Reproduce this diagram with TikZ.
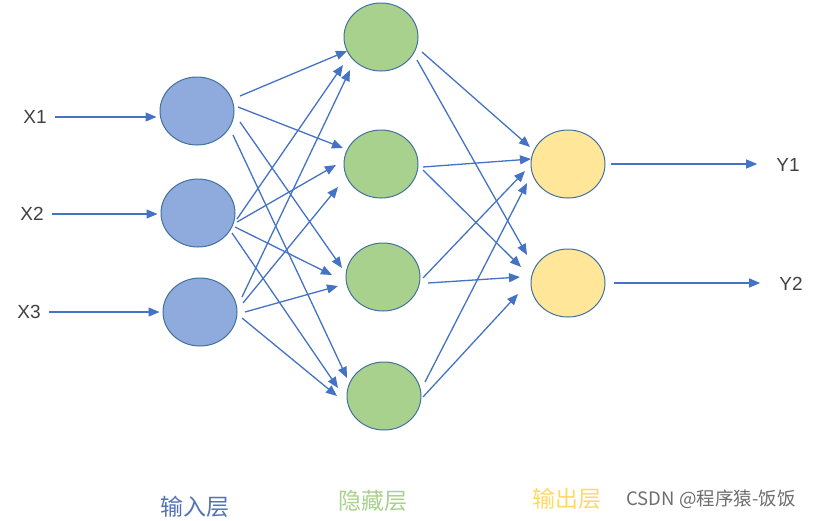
\documentclass[tikz,border=0pt]{standalone}
\usepackage{fontspec}
\setmainfont{Liberation Sans}
\newfontfamily\cjk{Noto Sans CJK SC}
\usetikzlibrary{arrows.meta,shapes.geometric,calc}
\definecolor{inblue}{HTML}{8FAADC}
\definecolor{hidgreen}{HTML}{A9D18E}
\definecolor{outyel}{HTML}{FFE699}
\definecolor{rim}{HTML}{41719C}
\definecolor{arr}{HTML}{4472C4}
\definecolor{txt}{HTML}{404040}
\definecolor{inlab}{HTML}{5473B4}
\definecolor{outlab}{HTML}{FFD966}
\definecolor{wm}{HTML}{6E6E6E}
\newcommand\cn[4]{\draw[conn] ($(#1)+(#2)$) -- ($(#3)+(#4)$);}
\begin{document}
\begin{tikzpicture}[x=1pt,y=-1pt,
  neuron/.style={ellipse,draw=rim,line width=1pt,minimum width=74pt,minimum height=68pt,inner sep=0pt},
  conn/.style={draw=arr,line width=1.3pt,-{Triangle[length=11pt,width=9pt]}},
  xlab/.style={inner sep=0pt,text=txt,font=\fontsize{19}{22}\selectfont},
  layerlab/.style={inner sep=0pt,font=\cjk\fontsize{23}{27}\selectfont}]
\useasboundingbox (0,0) rectangle (816,520);
% neurons
\node[neuron,fill=inblue] (I1) at (197,111) {};
\node[neuron,fill=inblue] (I2) at (198,213) {};
\node[neuron,fill=inblue] (I3) at (200,312) {};
\node[neuron,fill=hidgreen] (H1) at (381,37) {};
\node[neuron,fill=hidgreen] (H2) at (381,164) {};
\node[neuron,fill=hidgreen] (H3) at (383,277) {};
\node[neuron,fill=hidgreen] (H4) at (384,396) {};
\node[neuron,fill=outyel] (O1) at (568,164) {};
\node[neuron,fill=outyel] (O2) at (568,283) {};
% input / output labels
\node[xlab] (X1) at (35,117) {X1};
\node[xlab] (X2) at (32,214) {X2};
\node[xlab] (X3) at (29,312) {X3};
\node[xlab] (Y1) at (788,165) {Y1};
\node[xlab] (Y2) at (791,284) {Y2};
\draw[conn,shorten <=8pt,shorten >=3pt] (X1.east) -- (X1.east -| I1.west);
\draw[conn,shorten <=8pt,shorten >=3pt] (X2.east) -- (X2.east -| I2.west);
\draw[conn,shorten <=8pt,shorten >=3pt] (X3.east) -- (X3.east -| I3.west);
\draw[conn,shorten <=5pt,shorten >=19pt] (O1.east) -- (O1.east -| Y1.west);
\draw[conn,shorten <=8pt,shorten >=19pt] (O2.east) -- (O2.east -| Y2.west);
% input -> hidden
\cn{I1}{43,-15}{H1}{-34,14}
\cn{I1}{41,-4}{H2}{-38,-16}
\cn{I1}{43,11}{H3}{-41,-9}
\cn{I1}{36,24}{H4}{-37,-18}
\cn{I2}{39,6}{H1}{-38,28}
\cn{I2}{39,9}{H2}{-45,1}
\cn{I2}{37,14}{H3}{-51,-2}
\cn{I2}{34,20}{H4}{-46,-8}
\cn{I3}{42,-15}{H1}{-31,33}
\cn{I3}{43,-9}{H2}{-43,23}
\cn{I3}{45,0}{H3}{-45,9}
\cn{I3}{42,6}{H4}{-47,0}
% hidden -> output
\cn{H1}{41,15}{O1}{-38,-17}
\cn{H1}{36,23}{O2}{-41,-28}
\cn{H2}{42,3}{O1}{-37,-5}
\cn{H2}{42,6}{O2}{-47,-16}
\cn{H3}{40,1}{O1}{-43,7}
\cn{H3}{45,6}{O2}{-48,-6}
\cn{H4}{41,-14}{O1}{-41,19}
\cn{H4}{39,1}{O2}{-50,11}
% layer labels
\node[layerlab,text=inlab] (Lin) at (195,507) {输入层};
\node[layerlab,text=hidgreen] (Lhid) at (373,501) {隐藏层};
\node[layerlab,text=outlab] (Lout) at (567,499) {输出层};
\node[inner sep=0pt,text=wm,font=\cjk\fontsize{18.5}{22}\selectfont] (WM) at (711,499) {CSDN @程序猿-饭饭};
\end{tikzpicture}
\end{document}
